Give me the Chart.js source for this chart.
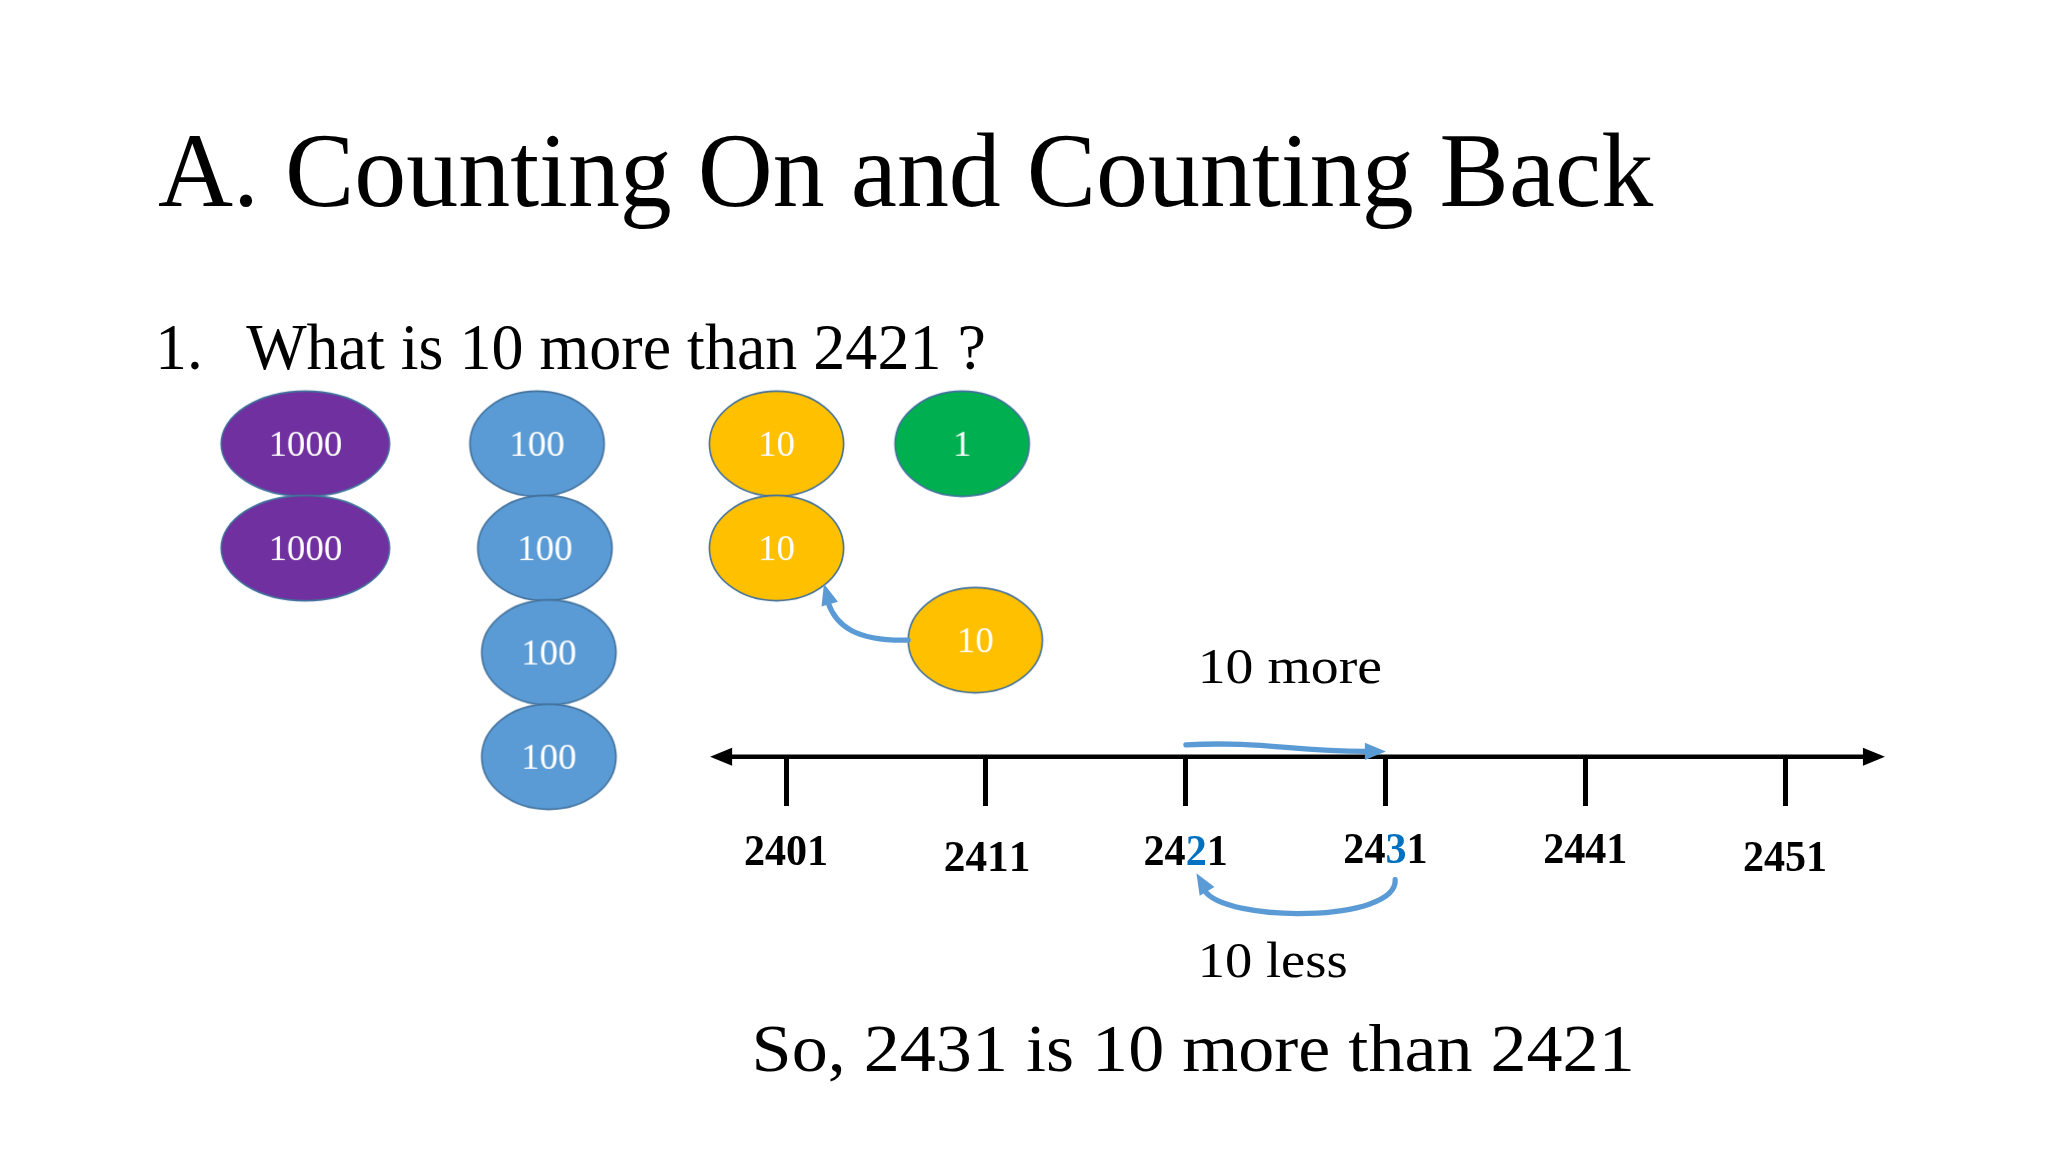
<!DOCTYPE html>
<html><head><meta charset="utf-8">
<script src="https://cdn.jsdelivr.net/npm/chart.js@4"></script>
<style>html,body{margin:0;padding:0;background:#fff}canvas{display:block}</style>
</head><body>
<canvas id="c" width="2048" height="1152"></canvas>
<script>
// ---- data ----
const placeValues = ['1000', '100', '10', '1'];
const diskCounts = [2, 4, 2, 1];
const addedDisk = '10';
const numberLineTicks = [2401, 2411, 2421, 2431, 2441, 2451];
const startNumber = 2421;
const step = 10;
const resultNumber = 2431;
const titleText = 'A. Counting On and Counting Back';
const questionText = 'What is 10 more than 2421 ?';
const answerText = 'So, 2431 is 10 more than 2421';

// ---- layout (reference units 1556 x 880) ----
const S = 2048 / 1556;
const colX = [232, 408, 590, 731];
const colStagger = [[0, 0], [0, 6, 9, 9], [0, 0], [0]];
const rowY0 = 339, rowGap = 79.7;
const labelDrop = [0, 4, 0, -2, -2, 4];
const colors = { '1000': '#7030A0', '100': '#5B9BD5', '10': '#FFC000', '1': '#00B050' };
const radX = { '1000': 64, '100': 51, '10': 51, '1': 51 };
const FONT = '"Liberation Serif", "DejaVu Serif", serif';

function diskCanvas(label) {
  const rx = radX[label] * S, ry = 40 * S;
  const c = document.createElement('canvas');
  c.width = Math.ceil(rx * 2 + 6); c.height = Math.ceil(ry * 2 + 6);
  const g = c.getContext('2d');
  g.beginPath(); g.ellipse(c.width / 2, c.height / 2, rx, ry, 0, 0, Math.PI * 2);
  g.fillStyle = colors[label]; g.fill();
  g.lineWidth = 1.6; g.strokeStyle = '#41719C'; g.stroke();
  g.fillStyle = '#fff'; g.font = (28 * S) + 'px ' + FONT;
  g.textAlign = 'center'; g.textBaseline = 'middle';
  g.fillText(label, c.width / 2, c.height / 2 + 2);
  return c;
}

const datasets = placeValues.map((pv, c) => {
  const pts = [];
  for (let i = 0; i < diskCounts[c]; i++) pts.push({ x: colX[c] + colStagger[c][i], y: rowY0 + i * rowGap });
  return { label: pv, data: pts, pointStyle: diskCanvas(pv), pointRadius: 40 };
});
datasets.push({ label: 'added', data: [{ x: 741, y: 489 }], pointStyle: diskCanvas(addedDisk), pointRadius: 40 });

function fitText(ctx, text, left, base, size, width, color, weight) {
  ctx.save();
  ctx.font = (weight || '') + ' ' + size + 'px ' + FONT;
  const w = ctx.measureText(text).width;
  ctx.translate(left, base); ctx.scale(width / w, 1);
  ctx.fillStyle = color || '#000'; ctx.textBaseline = 'alphabetic';
  ctx.fillText(text, 0, 0);
  ctx.restore();
}

function arrowHead(ctx, x, y, ang, len, wid, color) {
  ctx.save(); ctx.translate(x, y); ctx.rotate(ang);
  ctx.beginPath(); ctx.moveTo(0, 0); ctx.lineTo(-len, -wid / 2); ctx.lineTo(-len, wid / 2); ctx.closePath();
  ctx.fillStyle = color; ctx.fill(); ctx.restore();
}

const deco = {
  id: 'deco',
  afterDraw(chart) {
    const ctx = chart.ctx, X = v => chart.scales.x.getPixelForValue(v), Y = v => chart.scales.y.getPixelForValue(v);
    const nx = chart.scales.nx;
    fitText(ctx, titleText, X(120), Y(157), 80 * S, 1136 * S);
    fitText(ctx, '1.', X(118), Y(282), 50 * S, 36 * S);
    fitText(ctx, questionText, X(187), Y(282), 50 * S, 562 * S);
    fitText(ctx, step + ' more', X(910), Y(522), 38 * S, 140 * S);
    fitText(ctx, step + ' less', X(910), Y(746), 38 * S, 114 * S);
    fitText(ctx, answerText, X(571), Y(818), 52 * S, 671 * S);
    const ly = Y(578), lx0 = nx.getPixelForValue(2397.2), lx1 = nx.getPixelForValue(2456);
    ctx.save(); ctx.strokeStyle = '#000'; ctx.lineWidth = 4.5;
    ctx.beginPath(); ctx.moveTo(lx0 + 10, ly); ctx.lineTo(lx1 - 10, ly); ctx.stroke(); ctx.restore();
    arrowHead(ctx, lx1, ly, 0, 22, 18, '#000');
    arrowHead(ctx, lx0, ly, Math.PI, 22, 18, '#000');
    numberLineTicks.forEach((v, j) => {
      const s = String(v), cx = nx.getPixelForValue(v), w = 64 * S;
      ctx.save(); ctx.font = 'bold ' + (34 * S) + 'px ' + FONT;
      const full = ctx.measureText(s).width, k = w / full;
      let x = cx - w / 2;
      for (let i = 0; i < s.length; i++) {
        const blue = (v === startNumber || v === resultNumber) && i === 2;
        ctx.save(); ctx.translate(x, Y(661 + labelDrop[j])); ctx.scale(k, 1);
        ctx.fillStyle = blue ? '#0070C0' : '#000'; ctx.fillText(s[i], 0, 0); ctx.restore();
        x += ctx.measureText(s[i]).width * k;
      }
      ctx.restore();
    });
    const blue = '#5B9BD5';
    ctx.save(); ctx.strokeStyle = blue; ctx.lineWidth = 4 * S; ctx.lineCap = 'round';
    ctx.beginPath(); ctx.moveTo(X(901), Y(569));
    ctx.bezierCurveTo(X(960), Y(566), X(980), Y(574), X(1038), Y(574)); ctx.stroke();
    ctx.beginPath(); ctx.moveTo(X(1060), Y(672));
    ctx.bezierCurveTo(X(1062), Y(705), X(930), Y(705), X(915), Y(680)); ctx.stroke();
    ctx.beginPath(); ctx.moveTo(X(690), Y(489));
    ctx.bezierCurveTo(X(650), Y(490), X(635), Y(478), X(629), Y(460)); ctx.stroke();
    ctx.restore();
    arrowHead(ctx, X(1053), Y(574), 0, 16 * S, 13 * S, blue);
    arrowHead(ctx, X(909), Y(667), -2.1, 16 * S, 13 * S, blue);
    arrowHead(ctx, X(626), Y(446), -1.85, 16 * S, 13 * S, blue);
  }
};

new Chart(document.getElementById('c'), {
  type: 'scatter',
  data: { datasets },
  options: {
    responsive: false, animation: false, devicePixelRatio: 1,
    layout: { padding: 0, autoPadding: false },
    plugins: { legend: { display: false }, tooltip: { enabled: false } },
    scales: {
      x: { type: 'linear', min: 0, max: 1556, display: false },
      y: { type: 'linear', min: 0, max: 880, reverse: true, display: false },
      nx: {
        type: 'linear', axis: 'x', position: { y: 578 },
        min: 2361.66, max: 2464.16,
        afterBuildTicks: sc => { sc.ticks = numberLineTicks.map(v => ({ value: v })); },
        afterFit: sc => { sc.height = 0; },
        grid: { drawOnChartArea: false, drawTicks: true, tickLength: 49, tickColor: '#000', tickWidth: 5, color: '#000' },
        border: { display: false },
        ticks: { color: 'rgba(0,0,0,0)', autoSkip: false }
      }
    }
  },
  plugins: [deco]
});
</script>
</body></html>
